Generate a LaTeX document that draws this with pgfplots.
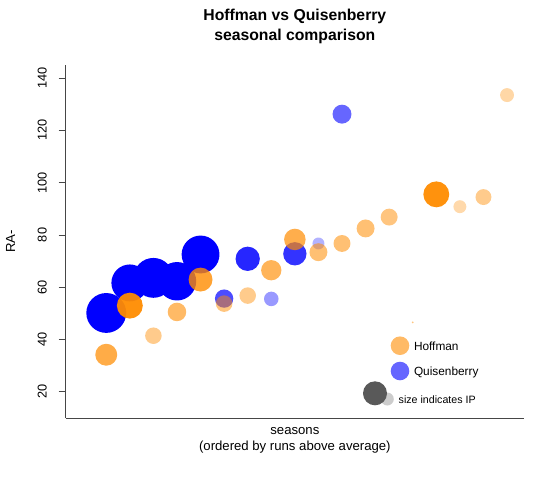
\documentclass[border=0pt]{standalone}
\usepackage{fontspec}
\setmainfont{Liberation Sans}
\usepackage{pgfplots}
\usepackage{pgfplotstable}
\pgfplotsset{compat=1.18}
\definecolor{hofc}{RGB}{255,140,0}
\definecolor{quic}{RGB}{0,0,255}
\definecolor{hofleg}{RGB}{255,186,102}
\definecolor{quileg}{RGB}{102,102,255}
\definecolor{gdark}{RGB}{89,89,89}
\definecolor{glight}{RGB}{204,204,204}
\definecolor{axc}{RGB}{70,70,70}
\pgfdeclareplotmark{fc}{\pgfpathcircle{\pgfpointorigin}{\pgfplotmarksize}\pgfusepathqfill}

\pgfplotstableread{
x y r a
1 34.19 11.0 0.72
2 52.97 13.0 0.95
3 41.47 8.3 0.45
4 50.56 9.3 0.60
5 62.94 12.0 0.80
6 53.74 8.3 0.50
7 56.81 8.3 0.45
8 66.51 10.2 0.65
9 78.28 10.8 0.70
10 73.41 9.0 0.55
11 76.74 8.5 0.55
12 82.49 9.0 0.55
13 86.83 8.5 0.50
14 46.57 1.0 0.50
15 95.53 13.0 0.95
16 90.81 6.5 0.33
17 94.49 8.0 0.45
18 133.49 7.0 0.35
}\hoff

\pgfplotstableread{
x y r a
1 50.17 20.0 1.0
2 61.67 18.5 1.0
3 63.59 20.0 1.0
4 62.29 19.3 1.0
5 72.53 19.0 1.0
6 55.66 9.2 0.70
7 70.88 12.2 0.85
8 55.54 7.3 0.40
9 72.79 11.7 0.80
10 76.74 6.0 0.30
11 126.20 9.5 0.60
}\quis

\begin{document}
\begin{tikzpicture}[x=1bp,y=1bp]
\useasboundingbox (0,0) rectangle (558,500);
\begin{axis}[
  at={(65.7bp,82bp)}, anchor=south west,
  scale only axis, width=458.3bp, height=353bp,
  xmin=-0.72, xmax=18.72, ymin=10, ymax=145,
  axis x line*=bottom, axis y line*=left,
  axis line style={axc, line width=0.8bp},
  xtick=\empty,
  ytick={20,40,60,80,100,120,140},
  tick align=outside, major tick length=7bp,
  tick style={axc, line width=0.8bp},
  /pgf/number format/assume math mode=true,
  yticklabel style={rotate=90, anchor=base, inner sep=0pt, font=\fontsize{12.8}{14}\selectfont},
  yticklabel shift=12bp,
  title={\rule{0pt}{12bp}Hoffman vs Quisenberry\\seasonal comparison},
  title style={font=\bfseries\fontsize{15.8}{19.3}\selectfont, align=center, inner sep=0pt,
    at={(axis description cs:0.5,1.1425)}, anchor=north},
  xlabel={\rule{0pt}{10bp}seasons\\(ordered by runs above average)},
  xlabel style={font=\fontsize{13.2}{15.5}\selectfont, align=center, inner sep=0pt,
    at={(axis description cs:0.5,-0.0184)}, anchor=north},
  ylabel={RA-},
  ylabel style={font=\fontsize{13.2}{15.5}\selectfont, inner sep=0pt, rotate=0,
    at={(axis description cs:-0.1106,0.5)}, anchor=base},
  legend style={draw=none, fill=none, inner sep=0pt, outer sep=0pt,
    at={(axis description cs:0.7076,0.2331)}, anchor=north west,
    font=\fontsize{11.9}{14}\selectfont, row sep=5.3bp, column sep=0pt,
    nodes={inner sep=0pt, text depth=0pt}},
  legend cell align=left,
]
\addplot[forget plot, scatter, only marks, mark=fc,
  visualization depends on={\thisrow{r}\as\rr},
  visualization depends on={\thisrow{a}\as\aa},
  scatter/@pre marker code/.code={\scope[mark size=\rr, fill=quic, fill opacity=\aa]},
  scatter/@post marker code/.code={\endscope}]
  table[x=x,y=y]{\quis};
\addplot[forget plot, scatter, only marks, mark=fc,
  visualization depends on={\thisrow{r}\as\rr},
  visualization depends on={\thisrow{a}\as\aa},
  scatter/@pre marker code/.code={\scope[mark size=\rr, fill=hofc, fill opacity=\aa]},
  scatter/@post marker code/.code={\endscope}]
  table[x=x,y=y]{\hoff};
\addlegendimage{legend image code/.code={\fill[hofleg, draw=none] (0bp,0bp) circle (9.3bp); \path[draw=none, fill=none] (-10bp,-10bp) rectangle (14bp,10bp);}}
\addlegendentry{Hoffman}
\addlegendimage{legend image code/.code={\fill[quileg, draw=none] (0bp,0bp) circle (9.3bp); \path[draw=none, fill=none] (-10bp,-10bp) rectangle (14bp,10bp);}}
\addlegendentry{Quisenberry}
\addlegendimage{legend image code/.code={\fill[glight, draw=none, overlay] (-12.7bp,0.3bp) circle (6.5bp); \fill[gdark, draw=none, overlay] (-25bp,6bp) circle (12bp); \path[draw=none, fill=none] (-10bp,-10bp) rectangle (14bp,13bp);}}
\addlegendentry{\hspace*{-15.3bp}\fontsize{10.7}{12}\selectfont size indicates IP}
\end{axis}
\end{tikzpicture}
\end{document}
